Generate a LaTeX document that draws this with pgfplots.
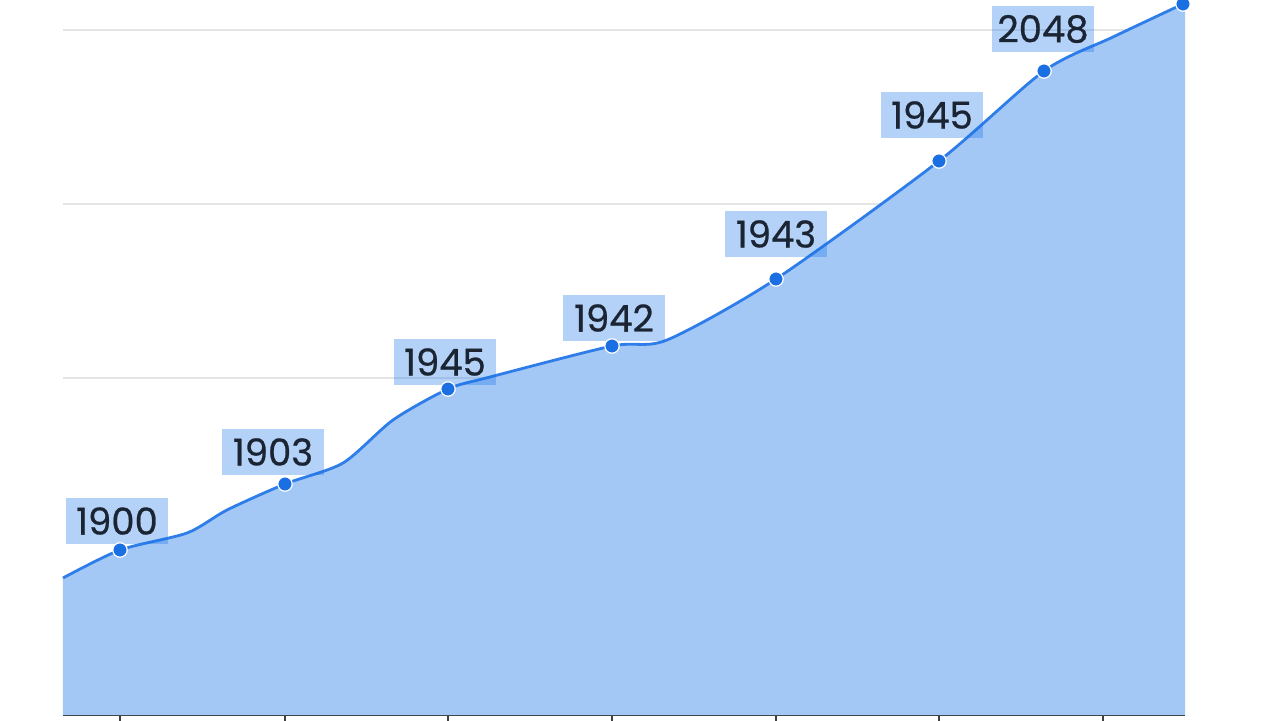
\documentclass[border=0pt]{standalone}
\usepackage{pgfplots}
\pgfplotsset{compat=1.18}
\usepackage{fontspec}
\setmainfont{Poppins}
\newfontfamily\labelfont{Poppins}[FakeBold=0.7]

\definecolor{areablue}{HTML}{A4C8F6}
\definecolor{lineblue}{HTML}{2F7DE8}
\definecolor{dotblue}{HTML}{1A6FE3}
\definecolor{boxblue}{HTML}{1A73E8}
\definecolor{labeltext}{HTML}{1B2433}
\definecolor{gridgray}{HTML}{E5E5E5}

\begin{document}
\begin{tikzpicture}
    % page is 1280x720 px at 0.5pt per px
    \path[use as bounding box] (-31.5pt,-2.5pt) rectangle (608.5pt,357.5pt);
    \begin{axis}[
            scale only axis,
            width=561pt,
            height=357.5pt,
            xmin=0, xmax=1122,
            ymin=0, ymax=715,
            clip=false,
            axis x line*=bottom,
            axis y line*=left,
            y axis line style={draw=none},
            x axis line style={draw=black!80, line width=1pt},
            xtick={57,222,385,549,713,876,1040},
            xticklabels={},
            tick align=outside,
            major tick length=6pt,
            x tick style={draw=black!75, line width=1pt},
            ytick={337,511,685},
            yticklabels={},
            ytick pos=left,
            ymajorgrids=true,
            grid style={gridgray, line width=0.8pt},
            y tick style={draw=none},
        ]
        % filled area under the curve
        \addplot[fill=areablue, draw=none, smooth, tension=0.45]
        coordinates {
                (0,137) (57,165) (124,182) (164,205) (222,231) (280,252)
                (330,295) (385,326) (427,338) (549,369) (604,375) (713,436)
                (876,554) (981,644) (1050,678) (1122,712)
            } \closedcycle;
        % curve
        \addplot[lineblue, line width=1.4pt, smooth, tension=0.45]
        coordinates {
                (0,137) (57,165) (124,182) (164,205) (222,231) (280,252)
                (330,295) (385,326) (427,338) (549,369) (604,375) (713,436)
                (876,554) (981,644) (1050,678) (1120,711)
            };
        % labels
        \addplot[
            only marks, mark=none,
            point meta=explicit symbolic,
            nodes near coords,
            nodes near coords align={center},
            every node near coord/.append style={
                    anchor=center, fill=boxblue, fill opacity=0.33,
                    text opacity=1, text=labeltext,
                    font=\labelfont\fontsize{18.5}{20}\selectfont,
                    minimum width=51pt, minimum height=23pt, inner sep=2pt},
        ]
        coordinates {
                (54,194) [1900]
                (210,263) [1903]
                (382,353) [1945]
                (551,397) [1942]
                (713,481) [1943]
                (869,600) [1945]
                (980,686) [2048]
            };
        % points
        \addplot[only marks, mark=*, mark size=3.6pt,
            mark options={fill=dotblue, draw=white, line width=0.6pt}]
        coordinates {
                (57,165) (222,231) (385,326) (549,369) (713,436)
                (876,554) (981,644) (1120,711)
            };
    \end{axis}
\end{tikzpicture}
\end{document}
